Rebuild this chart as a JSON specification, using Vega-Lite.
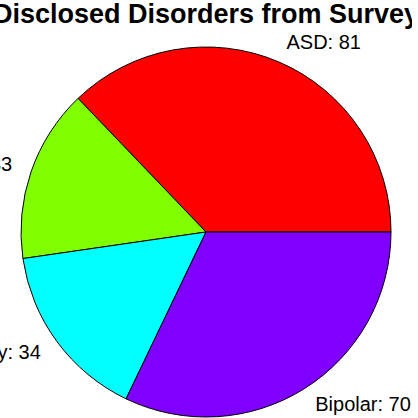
{
  "$schema": "https://vega.github.io/schema/vega-lite/v6.json",
  "width": 412,
  "height": 404,
  "autosize": "none",
  "padding": {"left": 0, "top": 30, "right": 0, "bottom": 0},
  "background": "white",
  "config": {"view": {"stroke": null}},
  "title": {
    "text": "Disclosed Disorders from Survey",
    "font": "Liberation Sans",
    "fontSize": 27,
    "fontWeight": "bold",
    "color": "black",
    "anchor": "middle",
    "baseline": "alphabetic",
    "offset": -20
  },
  "data": {
    "values": [
      {"disorder": "ASD", "count": 81, "idx": 1, "label": "ASD: 81"},
      {"disorder": "ADHD", "count": 33, "idx": 2, "label": "ADHD: 33"},
      {"disorder": "Anxiety", "count": 34, "idx": 3, "label": "Anxiety: 34"},
      {"disorder": "Bipolar", "count": 70, "idx": 4, "label": "Bipolar: 70"}
    ]
  },
  "encoding": {
    "theta": {"field": "count", "type": "quantitative", "stack": true,
      "scale": {"range": [1.5708, -4.7124]}},
    "order": {"field": "idx", "type": "quantitative", "sort": "ascending"}
  },
  "layer": [
    {
      "mark": {"type": "arc", "outerRadius": 185, "stroke": "black", "strokeWidth": 1},
      "encoding": {
        "color": {"field": "disorder", "type": "nominal",
          "scale": {"domain": ["ASD", "ADHD", "Anxiety", "Bipolar"],
                    "range": ["#FF0000", "#80FF00", "#00FFFF", "#8000FF"]},
          "legend": null}
      }
    },
    {
      "mark": {"type": "text", "radius": 205, "font": "Liberation Sans", "fontSize": 20,
        "color": "black", "baseline": "middle",
        "align": {"expr": "datum.idx == 1 || datum.idx == 4 ? 'left' : 'right'"}},
      "encoding": {
        "text": {"field": "label", "type": "nominal"}
      }
    }
  ]
}
